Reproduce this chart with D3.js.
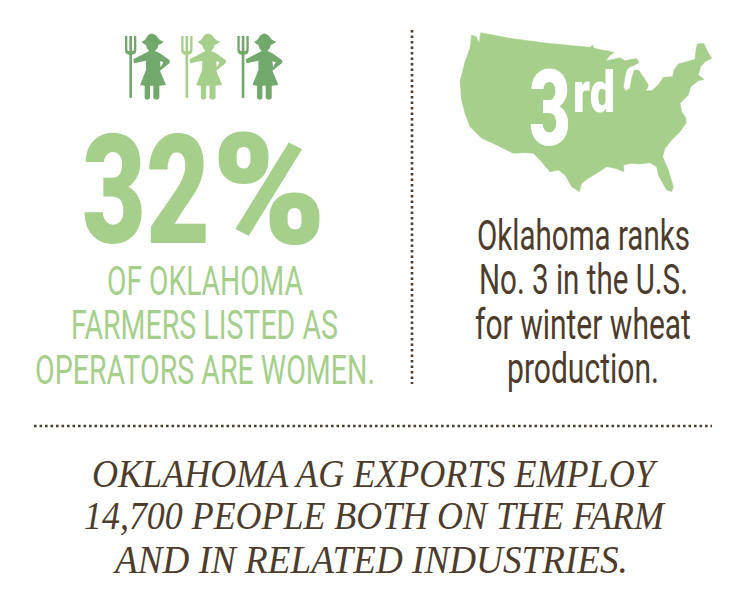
<!DOCTYPE html>
<html><head><meta charset="utf-8">
<script src="https://cdn.jsdelivr.net/npm/d3@7/dist/d3.min.js"></script>
<style>html,body{margin:0;background:#fff}svg{display:block}</style></head>
<body><svg id="c" width="750" height="592"></svg>
<script>
const GREEN="#a5cf8b", DARKGREEN="#72a86b", BROWN="#4d3c2c";
const farmerShades=[DARKGREEN,GREEN,DARKGREEN];
const bigStat=["32","%"];
const bigExtent=[[82,210],[213,325]];
const statLines=["OF OKLAHOMA","FARMERS LISTED AS","OPERATORS ARE WOMEN."];
const statExtent=[[107,303],[71,338],[35,375]];
const statBase=[295,339,384];
const rankLines=["Oklahoma ranks","No. 3 in the U.S.","for winter wheat","production."];
const rankExtent=[[477,690],[479,688],[475,691],[507,659]];
const rankBase=[250,294,339,383];
const footLines=["OKLAHOMA AG EXPORTS EMPLOY","14,700 PEOPLE BOTH ON THE FARM","AND IN RELATED INDUSTRIES."];
const footExtent=[[92,655],[84,664],[115,628]];
const footBase=[487,529,573];
const mapOutline=[[65,45],[78,50],[88,68],[92,38],[180,55],[280,68],[355,76],[420,82],[428,75],[432,85],[455,90],[470,92],[492,97],[478,108],[468,122],[490,118],[510,113],[525,122],[545,118],[560,116],[567,128],[553,136],[540,140],[530,150],[525,170],[520,200],[527,213],[540,205],[545,175],[553,150],[565,150],[580,170],[595,195],[592,205],[586,212],[605,212],[625,195],[640,172],[668,170],[672,150],[685,132],[710,125],[735,118],[738,90],[742,72],[762,70],[770,90],[785,115],[765,125],[752,140],[745,165],[762,178],[745,182],[722,200],[715,225],[700,240],[690,250],[695,275],[708,295],[708,310],[690,335],[665,360],[645,385],[638,410],[655,450],[670,500],[665,515],[650,510],[625,465],[620,440],[600,428],[570,432],[545,430],[520,435],[522,455],[495,445],[470,440],[440,460],[415,475],[395,490],[388,515],[365,500],[345,465],[325,450],[300,455],[270,420],[250,400],[225,398],[190,400],[140,375],[95,355],[60,320],[45,280],[35,240],[30,185],[45,125],[60,85]];

const svg=d3.select("#c");
const mx=d3.scaleLinear().domain([0,810]).range([450,720]);
const my=d3.scaleLinear().domain([0,540]).range([20,200]);
svg.append("path").attr("d",d3.line().x(d=>mx(d[0])).y(d=>my(d[1])).curve(d3.curveLinearClosed)(mapOutline)).attr("fill",GREEN).attr("stroke",GREEN).attr("stroke-width",.5);

// draw a text so it fills an exact horizontal span, squeezing the glyphs
function fit(t,x0,x1,y,size,fill,attrs){
  const e=svg.append("text").text(t).attr("font-size",size).attr("fill",fill);
  Object.entries(attrs).forEach(([k,v])=>e.attr(k,v));
  const w=e.node().getComputedTextLength();
  e.attr("transform",`translate(${x0},${y}) scale(${(x1-x0)/w},1)`);
  return e;
}
const HEAVY={"font-family":"Roboto","font-weight":900};
fit("3",529,571,145,106,"#fff",HEAVY);
fit("rd",573,615,112,58,"#fff",HEAVY);

const forkPath="M45 48h7v40q0 6 6 6V48h8V94q6 0 6-6V48h7V90q0 14-13 14V232q-4 6-8 0V104q-13 0-13-14z";
const bodyPath="M95 65Q108 60 112 48Q125 33 140 48Q145 60 162 65Q152 73 145 75Q145 85 135 93L150 100L178 120Q182 125 178 130L150 152L168 195L148 197V235Q139 243 130 235V197H120V235Q112 243 104 235V197L90 195L108 150V122L72 130L70 118L105 100L118 93Q108 85 108 75Q100 72 95 65ZM150 124L160 126L152 142Z";
const ix=d3.scaleBand().domain(d3.range(farmerShades.length)).range([110,278.6]);
const g=svg.selectAll("g.f").data(farmerShades).join("g").attr("class","f").attr("transform",(d,i)=>`translate(${ix(i)},20) scale(.3333)`).attr("fill",d=>d);
g.append("path").attr("d",forkPath);
g.append("path").attr("d",bodyPath).attr("fill-rule","evenodd");

fit(bigStat[0],bigExtent[0][0],bigExtent[0][1],243,152,GREEN,HEAVY);
fit(bigStat[1],bigExtent[1][0],bigExtent[1][1],243,152,GREEN,HEAVY).attr("stroke",GREEN).attr("stroke-width",2);

function block(lines,ext,base,size,fill,attrs){
  lines.forEach((t,i)=>fit(t,ext[i][0],ext[i][1],base[i],size,fill,attrs));
}
block(statLines,statExtent,statBase,41,GREEN,{"font-family":"Roboto","font-weight":400});
block(rankLines,rankExtent,rankBase,42,BROWN,{"font-family":"Roboto","font-weight":400});
block(footLines,footExtent,footBase,40,BROWN,{"font-family":"Liberation Serif","font-style":"italic"});

const dots=(x1,y1,x2,y2)=>svg.append("line").attr("x1",x1).attr("x2",x2).attr("y1",y1).attr("y2",y2).attr("stroke",BROWN).attr("stroke-width",2.6).attr("stroke-dasharray","2.6 2.9");
dots(412,30,412,384);
dots(34,426,712,426);
</script></body></html>
